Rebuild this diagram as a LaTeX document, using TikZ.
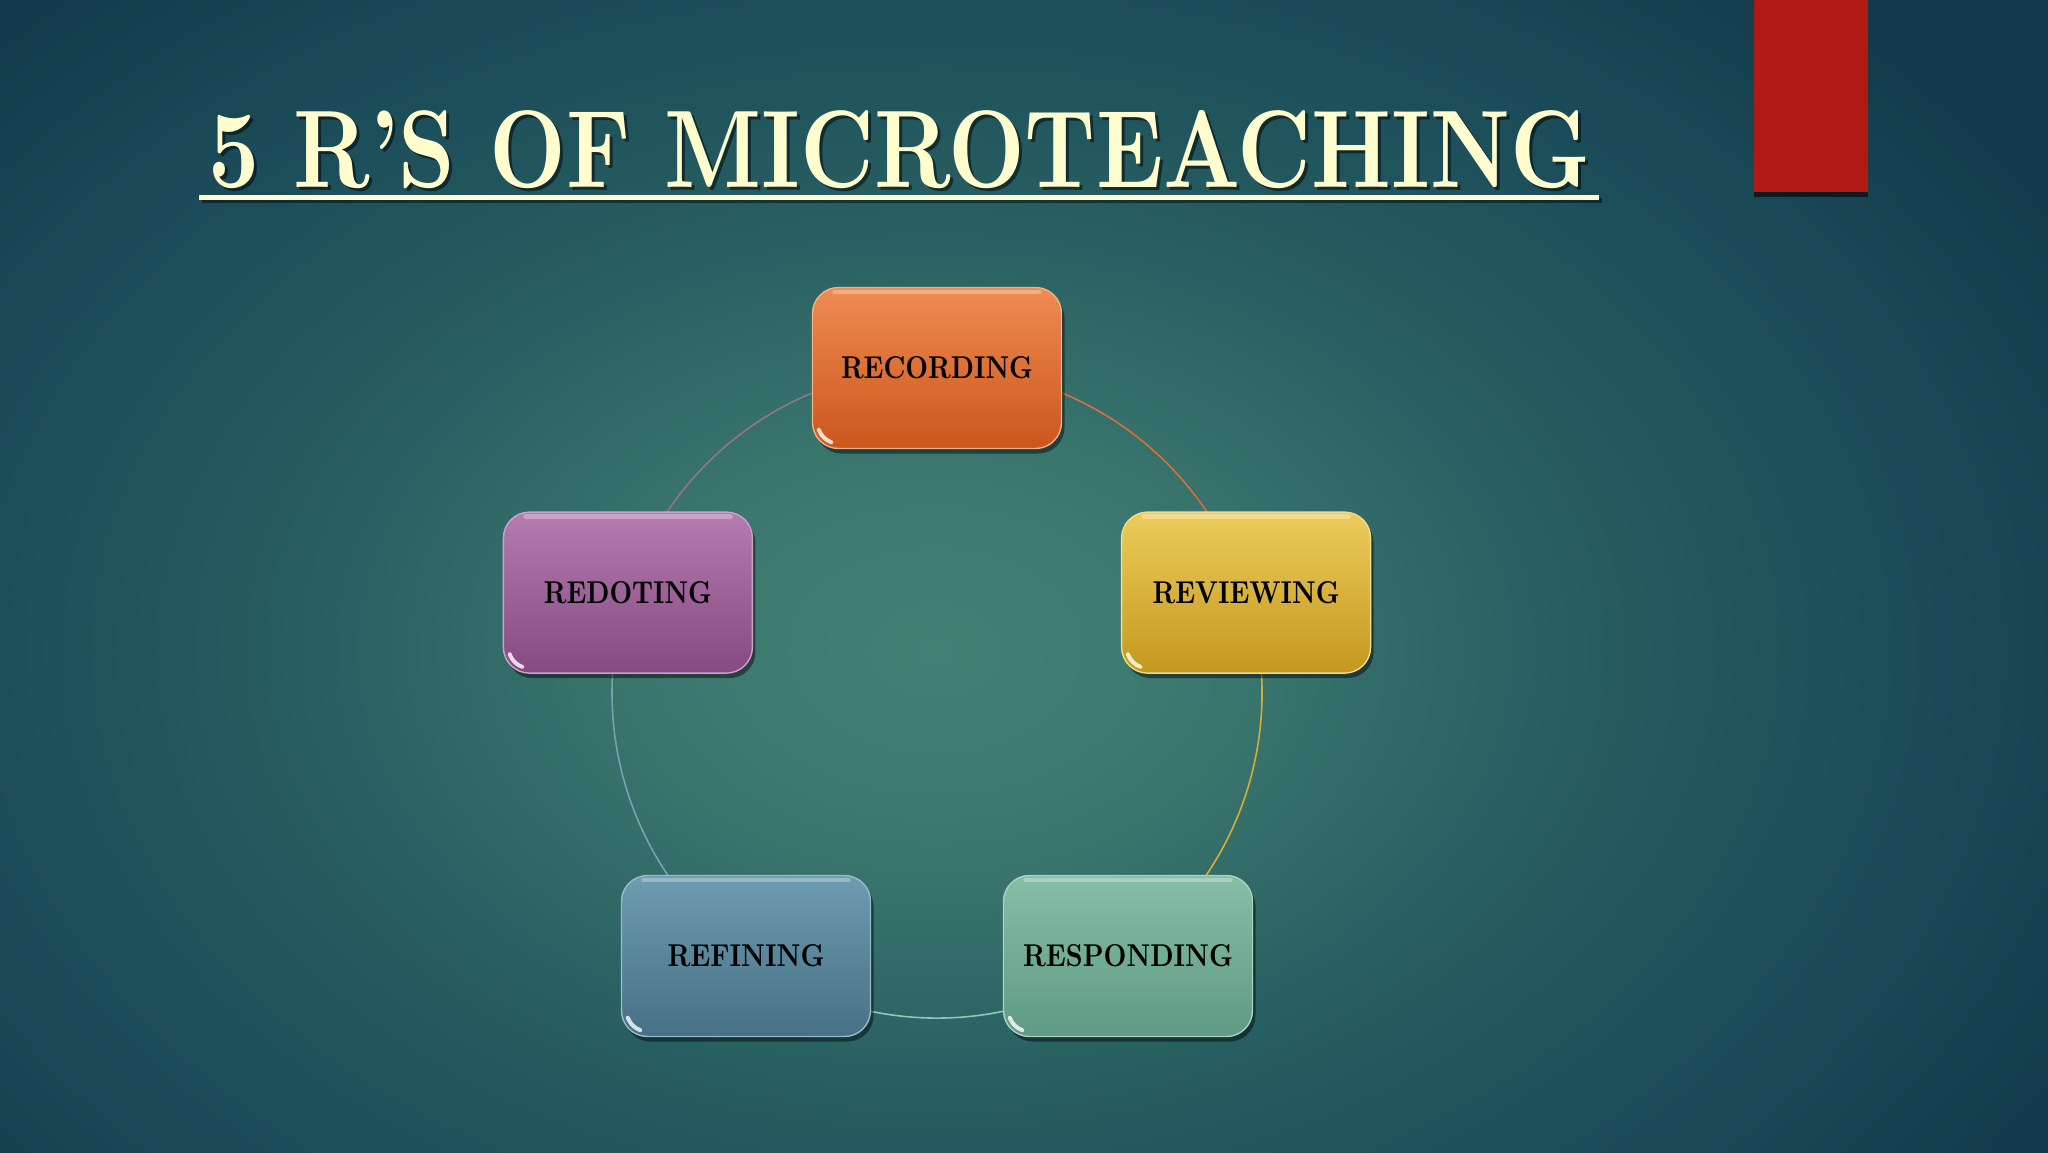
\documentclass[tikz,border=0pt]{standalone}
\usepackage{fontspec}
\usepackage{graphicx}
\usetikzlibrary{shadows}
\definecolor{bgin}{RGB}{66,128,116}
\definecolor{bgmida}{RGB}{60,120,111}
\definecolor{bgmidb}{RGB}{40,95,97}
\definecolor{bgmidc}{RGB}{28,78,90}
\definecolor{bgout}{RGB}{19,58,74}
\definecolor{titlecol}{RGB}{255,252,206}
\definecolor{redbar}{RGB}{176,26,20}
\definecolor{rectop}{RGB}{238,140,82}
\definecolor{recbot}{RGB}{204,86,28}
\definecolor{revtop}{RGB}{236,204,92}
\definecolor{revbot}{RGB}{196,152,30}
\definecolor{restop}{RGB}{134,190,166}
\definecolor{resbot}{RGB}{94,154,132}
\definecolor{reftop}{RGB}{110,156,176}
\definecolor{refbot}{RGB}{70,112,134}
\definecolor{redtop}{RGB}{180,124,176}
\definecolor{redbot}{RGB}{134,74,130}
\definecolor{arcorange}{RGB}{214,112,58}
\definecolor{arcyellow}{RGB}{214,174,54}
\definecolor{arccyan}{RGB}{140,200,184}
\definecolor{arcblue}{RGB}{120,162,178}
\definecolor{arcpurple}{RGB}{150,112,150}
\pgfdeclareradialshading{slidebg}{\pgfpoint{0bp}{0bp}}{color(0bp)=(bgin); color(5bp)=(bgmida); color(12bp)=(bgmidb); color(18bp)=(bgmidc); color(25bp)=(bgout); color(50bp)=(bgout)}
\pgfdeclarelayer{bglayer}
\pgfdeclarelayer{linelayer}
\pgfsetlayers{bglayer,linelayer,main}
\newcommand\stagetext[2]{\resizebox{#2}{11pt}{\bfseries #1}}
\begin{document}
\begin{tikzpicture}[x=0.5pt,y=-0.5pt,
  stagebox/.style n args={3}{rounded corners=13pt, minimum width=124.5pt,
    minimum height=80.5pt, inner sep=0pt, top color=#1, bottom color=#2,
    draw=#3, line width=0.7pt, text=black,
    drop shadow={shadow xshift=1.5pt, shadow yshift=-2.5pt, opacity=0.45, fill=black},
    path picture={
      \draw[white, opacity=0.3, line width=2.2pt, line cap=round]
        ([xshift=11pt,yshift=-2.2pt]path picture bounding box.north west) --
        ([xshift=-11pt,yshift=-2.2pt]path picture bounding box.north east);
      \draw[white, opacity=0.8, line width=2pt, line cap=round]
        ([shift={(13pt,13pt)}]path picture bounding box.south west) ++(200:10.5pt)
        arc[start angle=200, end angle=250, radius=10.5pt];
    }},
  cyclearc/.style={draw=#1, line width=0.8pt}]
\useasboundingbox (0,0) rectangle (2048,1152);
\begin{pgfonlayer}{bglayer}
  \begin{scope}
    \clip (0,0) rectangle (2048,1152);
    \shade[shading=slidebg] (-365,-250) rectangle (2235,1550);
  \end{scope}
\end{pgfonlayer}
% red bar
\node[fill=redbar, minimum width=57pt, minimum height=96pt, inner sep=0pt, anchor=north west,
  drop shadow={shadow xshift=0pt, shadow yshift=-2.5pt, opacity=0.6, fill=black}] (bar) at (1754,0) {};
% title
\node[anchor=base west, inner sep=0pt, text=black, opacity=0.5] (titleshadow) at (211,190)
  {\resizebox{691pt}{38.5pt}{\bfseries 5 R’S OF MICROTEACHING}};
\node[anchor=base west, inner sep=0pt, text=titlecol] (title) at (208,187)
  {\resizebox{691pt}{38.5pt}{\bfseries 5 R’S OF MICROTEACHING}};
\draw[black, opacity=0.45, line width=2.5pt] (202,200.5) -- (1602,200.5);
\draw[titlecol, line width=2.5pt] (199,197.5) -- (1599,197.5);
% centre of the cycle
\coordinate (c) at (937,693);
% stages
\node[stagebox={rectop}{recbot}{rectop!70!white}] (rec) at (937,368) {\stagetext{RECORDING}{96pt}};
\node[stagebox={revtop}{revbot}{revtop!70!white}] (rev) at (1246.1,592.6) {\stagetext{REVIEWING}{93.5pt}};
\node[stagebox={restop}{resbot}{restop!70!white}] (res) at (1128,956) {\stagetext{RESPONDING}{105pt}};
\node[stagebox={reftop}{refbot}{reftop!70!white}] (ref) at (746,956) {\stagetext{REFINING}{78.5pt}};
\node[stagebox={redtop}{redbot}{redtop!70!white}] (red) at (627.9,592.6) {\stagetext{REDOTING}{84pt}};
% connectors
\begin{pgfonlayer}{linelayer}
  \draw[cyclearc=arcorange] (rec.center) arc[start angle=-90, end angle=-18, radius=325];
  \draw[cyclearc=arcyellow] (rev.center) arc[start angle=-18, end angle=54, radius=325];
  \draw[cyclearc=arccyan] (res.center) arc[start angle=54, end angle=126, radius=325];
  \draw[cyclearc=arcblue] (ref.center) arc[start angle=126, end angle=198, radius=325];
  \draw[cyclearc=arcpurple] (red.center) arc[start angle=198, end angle=270, radius=325];
\end{pgfonlayer}
\end{tikzpicture}
\end{document}
